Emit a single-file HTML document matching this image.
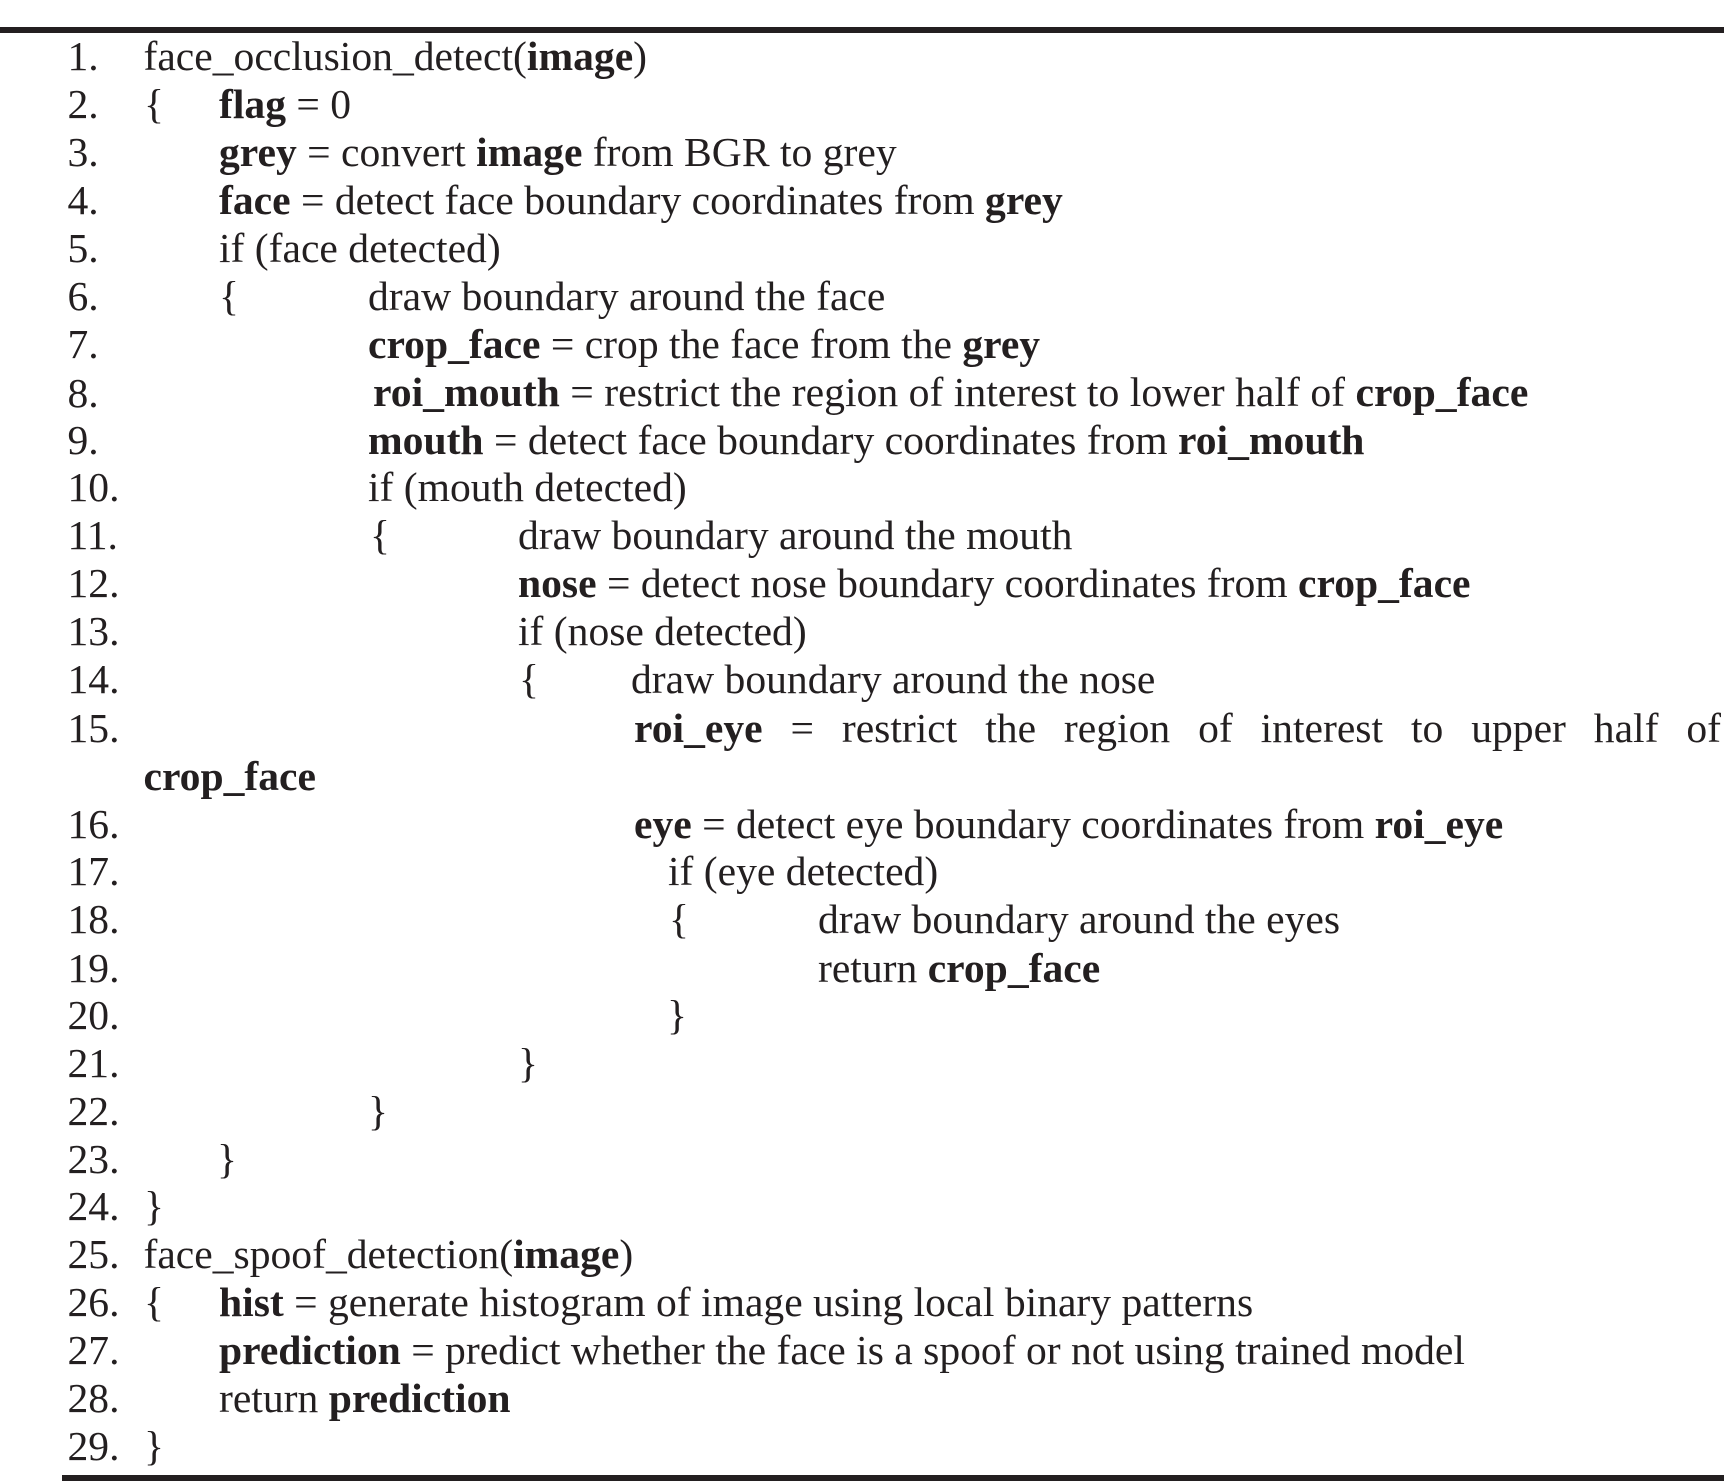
<!DOCTYPE html>
<html lang="en">
<head>
<meta charset="utf-8">
<title>Algorithm listing</title>
<style>
html,body{margin:0;padding:0;background:#fff;}
#p{position:relative;width:1735px;height:1481px;overflow:hidden;background:#fff;color:#231f20;
font-family:"Liberation Serif",serif;font-size:41.6px;line-height:48px;}
.r{position:absolute;left:0;width:1735px;height:48px;}
.r span{position:absolute;white-space:nowrap;}
.r span b{position:static;}
.n{left:67.5px;}
.rule{position:absolute;background:#231f20;}
</style>
</head>
<body>
<div id="p">
<div class="rule" style="left:0;top:27px;width:1724px;height:6px"></div>
<div class="r" style="top:32px"><span class="n">1.</span><span style="left:143.5px">face_occlusion_detect(<b>image</b>)</span></div>
<div class="r" style="top:80px"><span class="n">2.</span><span style="left:144px">{</span><span style="left:219px"><b>flag</b> = 0</span></div>
<div class="r" style="top:128px"><span class="n">3.</span><span style="left:219px"><b>grey</b> = convert <b>image</b> from BGR to grey</span></div>
<div class="r" style="top:176px"><span class="n">4.</span><span style="left:219px"><b>face</b> = detect face boundary coordinates from <b>grey</b></span></div>
<div class="r" style="top:224px"><span class="n">5.</span><span style="left:219px">if (face detected)</span></div>
<div class="r" style="top:272px"><span class="n">6.</span><span style="left:219px">{</span><span style="left:368px">draw boundary around the face</span></div>
<div class="r" style="top:320px"><span class="n">7.</span><span style="left:368px"><b>crop_face</b> = crop the face from the <b>grey</b></span></div>
<div class="r" style="top:369px"><span class="n">8.</span><span style="left:373px;font-size:41.7px"><b>roi_mouth</b> = restrict the region of interest to lower half of <b>crop_face</b></span></div>
<div class="r" style="top:416px"><span class="n">9.</span><span style="left:368px"><b>mouth</b> = detect face boundary coordinates from <b>roi_mouth</b></span></div>
<div class="r" style="top:463px"><span class="n">10.</span><span style="left:368px">if (mouth detected)</span></div>
<div class="r" style="top:511px"><span class="n">11.</span><span style="left:370px">{</span><span style="left:518px">draw boundary around the mouth</span></div>
<div class="r" style="top:559px"><span class="n">12.</span><span style="left:518px"><b>nose</b> = detect nose boundary coordinates from <b>crop_face</b></span></div>
<div class="r" style="top:607px"><span class="n">13.</span><span style="left:518px">if (nose detected)</span></div>
<div class="r" style="top:655px"><span class="n">14.</span><span style="left:519px">{</span><span style="left:631px">draw boundary around the nose</span></div>
<div class="r" style="top:704px"><span class="n">15.</span><span style="left:634px;width:1087px;white-space:normal;text-align:justify;text-align-last:justify"><b>roi_eye</b> = restrict the region of interest to upper half of</span></div>
<div class="r" style="top:752px"><span style="left:143.5px"><b>crop_face</b></span></div>
<div class="r" style="top:799.5px"><span class="n">16.</span><span style="left:634px"><b>eye</b> = detect eye boundary coordinates from <b>roi_eye</b></span></div>
<div class="r" style="top:847px"><span class="n">17.</span><span style="left:668px">if (eye detected)</span></div>
<div class="r" style="top:894.5px"><span class="n">18.</span><span style="left:669px">{</span><span style="left:818px">draw boundary around the eyes</span></div>
<div class="r" style="top:944.4px"><span class="n">19.</span><span style="left:818px">return <b>crop_face</b></span></div>
<div class="r" style="top:991.4px"><span class="n">20.</span><span style="left:667px">}</span></div>
<div class="r" style="top:1039.4px"><span class="n">21.</span><span style="left:518px">}</span></div>
<div class="r" style="top:1087.3px"><span class="n">22.</span><span style="left:368px">}</span></div>
<div class="r" style="top:1135.3px"><span class="n">23.</span><span style="left:217px">}</span></div>
<div class="r" style="top:1182.3px"><span class="n">24.</span><span style="left:144px">}</span></div>
<div class="r" style="top:1230.3px"><span class="n">25.</span><span style="left:143.5px">face_spoof_detection(<b>image</b>)</span></div>
<div class="r" style="top:1278.2px"><span class="n">26.</span><span style="left:144px">{</span><span style="left:219px"><b>hist</b> = generate histogram of image using local binary patterns</span></div>
<div class="r" style="top:1326.2px"><span class="n">27.</span><span style="left:219px"><b>prediction</b> = predict whether the face is a spoof or not using trained model</span></div>
<div class="r" style="top:1374.2px"><span class="n">28.</span><span style="left:219px">return <b>prediction</b></span></div>
<div class="r" style="top:1422.1px"><span class="n">29.</span><span style="left:144px">}</span></div>
<div class="rule" style="left:62px;top:1475px;width:1662px;height:6px"></div>
</div>
</body>
</html>
